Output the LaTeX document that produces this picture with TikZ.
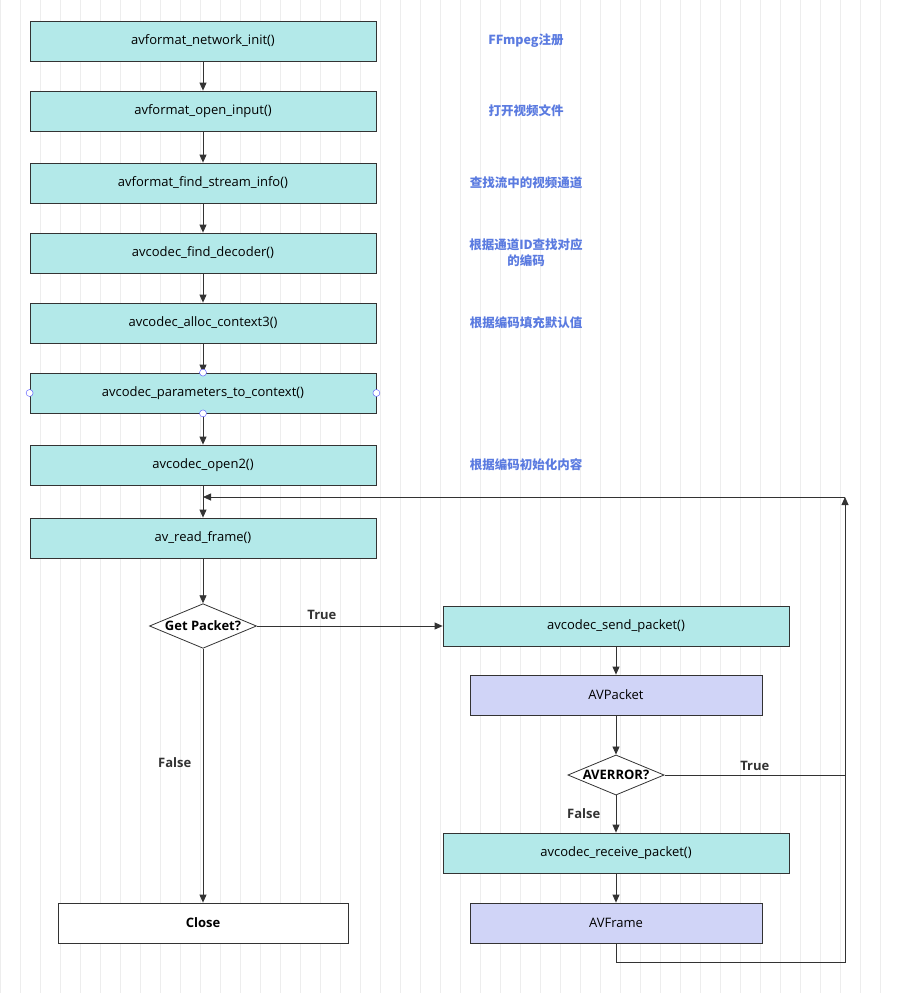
\documentclass[tikz,border=0pt]{standalone}
\usepackage{fontspec}
\setmainfont{Open Sans}
\newfontfamily\cjk{Noto Sans CJK SC}
\usetikzlibrary{positioning,shapes.geometric,arrows.meta}
\definecolor{boxcyan}{HTML}{B3E9E9}
\definecolor{boxlav}{HTML}{D0D4F7}
\definecolor{notecol}{HTML}{5B7BE0}
\begin{document}
\begin{tikzpicture}
		[x=1pt,y=-1pt,
		stepnode/.style={rectangle, draw=black!80, fill=boxcyan, thick, minimum width=346pt, minimum height=40pt, font=\fontsize{13}{15}\selectfont},
		datanode/.style={stepnode, fill=boxlav, minimum width=292pt},
		testnode/.style={diamond, draw=black!80, fill=white, thick, aspect=2.4, inner sep=1pt, font=\bfseries\fontsize{13}{15}\selectfont},
		notenode/.style={text=notecol, font=\cjk\bfseries\fontsize{12.5}{16}\selectfont, align=center},
		yesno/.style={font=\bfseries\fontsize{13}{15}\selectfont, text=black!80},
		handle/.style={circle, draw=blue!70, fill=white, inner sep=0pt, minimum size=7pt},
		flow/.style={-{Triangle[length=8pt,width=7pt]}, thick, draw=black!80},
		]
		\useasboundingbox (0,0) rectangle (897,993);
		\draw[black!7] (0,0) grid[step=20] (897,993);
		
		%Nodes
		\node[stepnode](netinit) at (203,41) {avformat\_network\_init()};
		\node[stepnode](openinput) at (203,111) {avformat\_open\_input()};
		\node[stepnode](streaminfo) at (203,183) {avformat\_find\_stream\_info()};
		\node[stepnode](finddec) at (203,253) {avcodec\_find\_decoder()};
		\node[stepnode](allocctx) at (203,323) {avcodec\_alloc\_context3()};
		\node[stepnode](paramctx) at (203,393) {avcodec\_parameters\_to\_context()};
		\node[stepnode](open2) at (203,465) {avcodec\_open2()};
		\node[stepnode](readframe) at (203,538) {av\_read\_frame()};
		\node[testnode](getpkt) at (203,626) {Get Packet?};
		\node[stepnode, fill=white, minimum width=290pt, font=\bfseries\fontsize{13}{15}\selectfont](close) at (203,923) {Close};
		\node[stepnode](sendpkt) at (616,626) {avcodec\_send\_packet()};
		\node[datanode](avpacket) at (616,695) {AVPacket};
		\node[testnode](averror) at (616,775) {AVERROR?};
		\node[stepnode](recvpkt) at (616,853) {avcodec\_receive\_packet()};
		\node[datanode](avframe) at (616,923) {AVFrame};
		\coordinate (loopbot) at (845,962);
		\coordinate (looptop) at (845,497);
		\coordinate (loopin) at (203,497);
		
		%Notes
		\node[notenode] at (526,41) {FFmpeg注册};
		\node[notenode] at (526,111) {打开视频文件};
		\node[notenode] at (526,183) {查找流中的视频通道};
		\node[notenode] at (526,253) {根据通道ID查找对应\\的编码};
		\node[notenode] at (526,323) {根据编码填充默认值};
		\node[notenode] at (526,465) {根据编码初始化内容};
		
		%Lines
		\draw[flow](netinit) -- (openinput);
		\draw[flow](openinput) -- (streaminfo);
		\draw[flow](streaminfo) -- (finddec);
		\draw[flow](finddec) -- (allocctx);
		\draw[flow](allocctx) -- (paramctx);
		\draw[flow](paramctx) -- (open2);
		\draw[thick, black!80](open2) -- (loopin);
		\draw[flow](loopin) -- (readframe);
		\draw[flow](readframe) -- (getpkt);
		\draw[flow](getpkt) -- node[yesno, pos=0.35, above=3pt]{True} (sendpkt);
		\draw[flow](getpkt) -- node[yesno, pos=0.45, left=8pt]{False} (close);
		\draw[flow](sendpkt) -- (avpacket);
		\draw[flow](avpacket) -- (averror);
		\draw[flow](averror) -- node[yesno, pos=0.5, left=12pt]{False} (recvpkt);
		\draw[flow](recvpkt) -- (avframe);
		\draw[flow](avframe.south) |- (loopbot) -- (looptop);
		\draw[flow](looptop) -- (loopin);
		\draw[thick, black!80](averror.east) -- node[yesno, above=1pt]{True} (averror.east -| looptop);
		
		%Handles
		\node[handle] at (paramctx.north) {};
		\node[handle] at (paramctx.south) {};
		\node[handle] at (paramctx.west) {};
		\node[handle] at (paramctx.east) {};
	\end{tikzpicture}
\end{document}
